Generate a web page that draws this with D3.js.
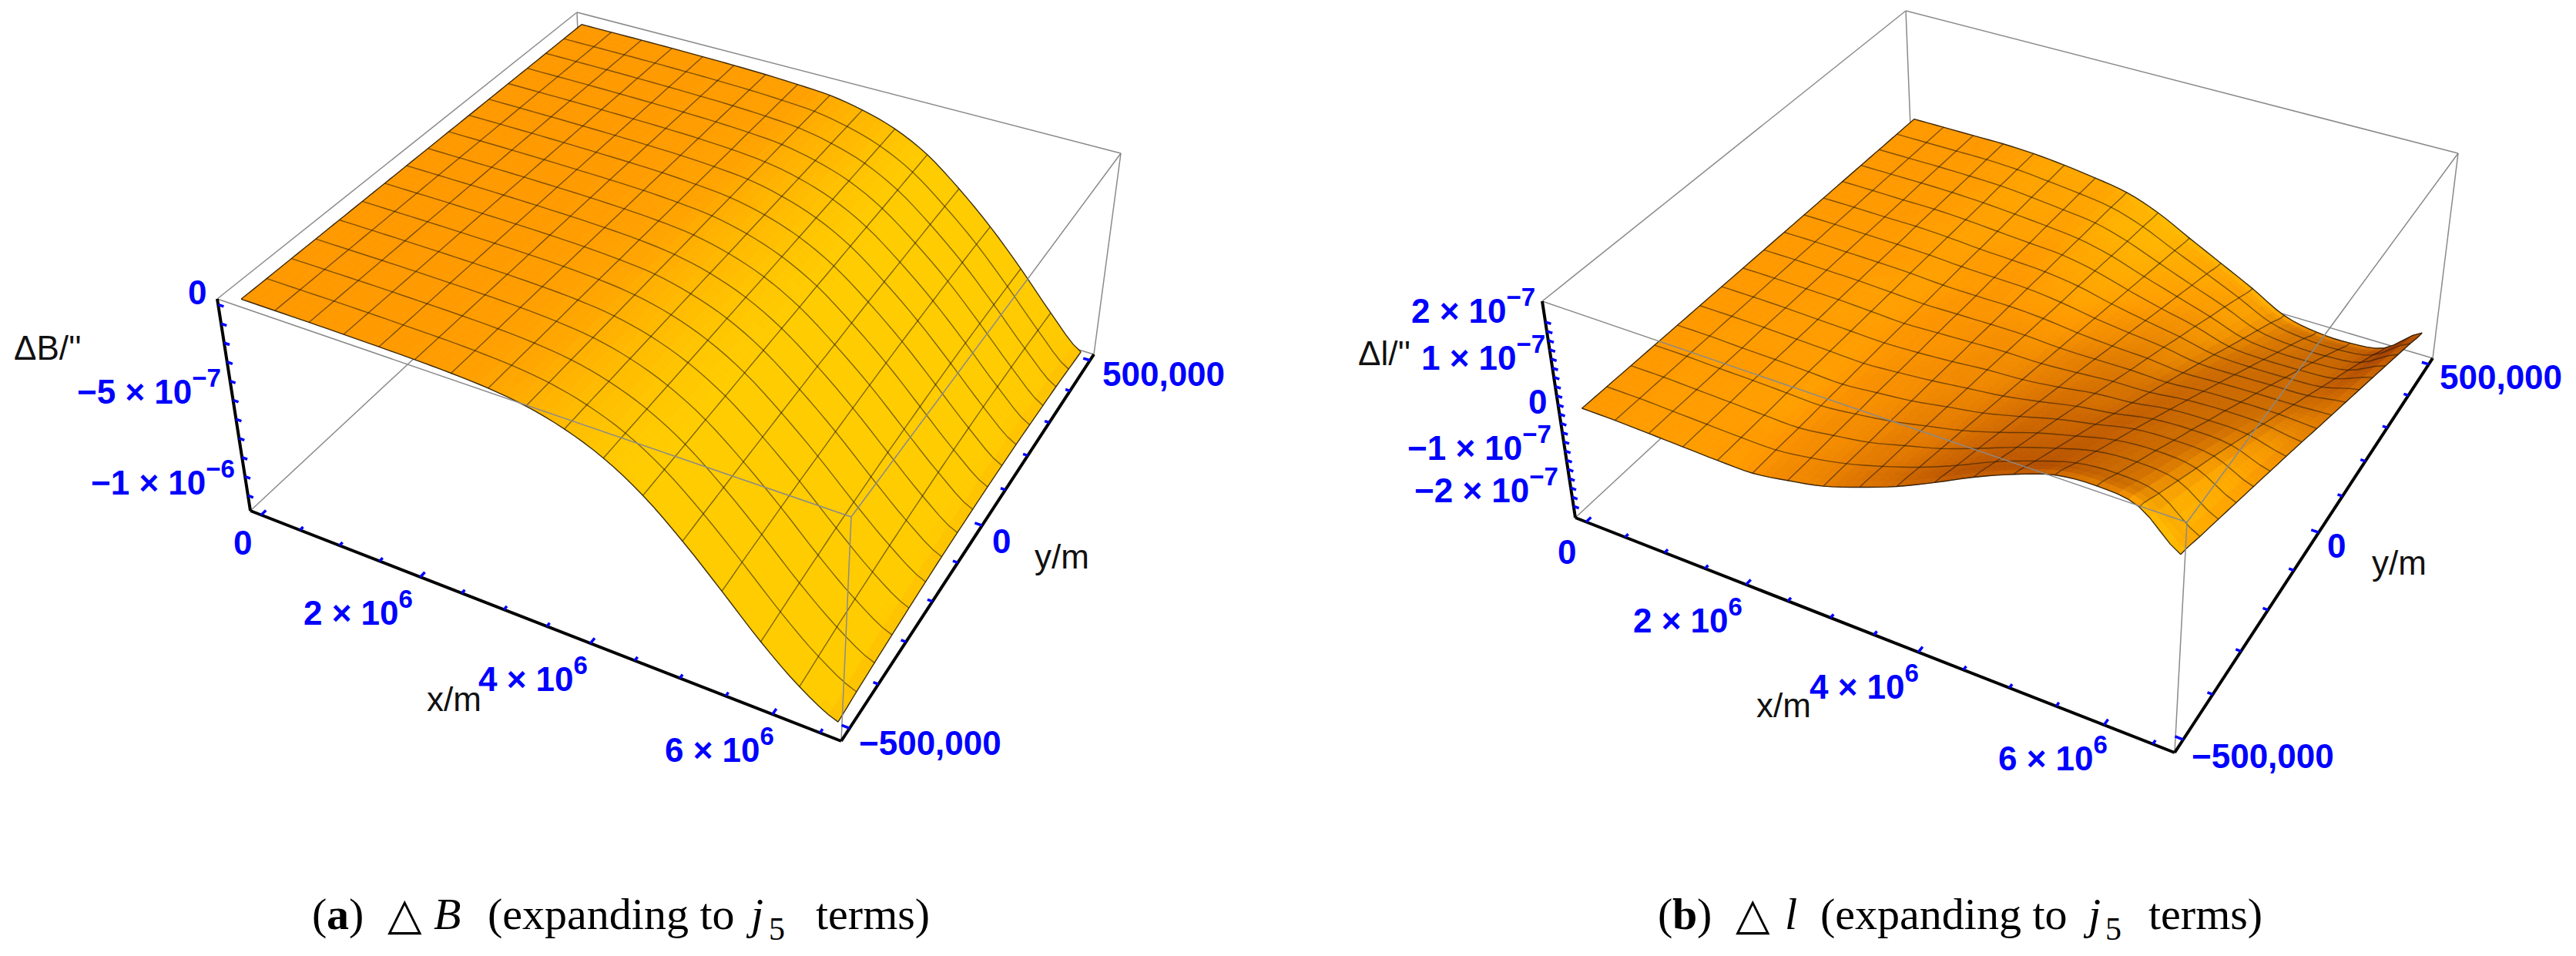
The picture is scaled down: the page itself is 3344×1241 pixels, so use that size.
<!DOCTYPE html>
<html>
<head>
<meta charset="utf-8">
<script src="https://cdnjs.cloudflare.com/ajax/libs/d3/7.8.5/d3.min.js"></script>
<style>
body { margin: 0; background: #fff; }
text { font-family: "Liberation Sans", Arial, sans-serif; }
.tick { fill: #0000ff; font-weight: bold; font-size: 44px; }
.axlabel { fill: #111; font-size: 44px; }
.cap { fill: #000; font-family: "Liberation Serif", serif; font-size: 58px; }
</style>
</head>
<body>
<svg width="3344" height="1241"></svg>
<script>
// mesh positions (metres) shared by both surfaces
var xMesh = [0, 412500, 825000, 1237500, 1650000, 2062500, 2475000, 2887500, 3300000, 3712500, 4125000, 4537500, 4950000, 5362500, 5775000, 6187500, 6600000];
var yMesh = [-500000, -437500, -375000, -312500, -250000, -187500, -125000, -62500, 0, 62500, 125000, 187500, 250000, 312500, 375000, 437500, 500000];

// units 1e-7 arcsec; one row per xMesh value, one column per yMesh value
var deltaB = [
  [0,0,0,0,0,0,0,0,0,0,0,0,0,0,0,0,0],
  [0,0,0,0,0,0,0,0,0,0,0,0,0,0,0,0,0],
  [0,0,0,0,0,0,0,0,0,0,0,0,0,0,0,0,0],
  [-.01,-.01,-.01,-.01,-.01,-.01,-.01,-.01,-.01,-.01,-.01,-.01,-.01,-.01,-.01,-.01,-.01],
  [-.03,-.03,-.03,-.03,-.03,-.03,-.03,-.03,-.03,-.03,-.03,-.03,-.03,-.03,-.03,-.03,-.03],
  [-.06,-.06,-.06,-.06,-.06,-.06,-.06,-.06,-.06,-.06,-.06,-.06,-.06,-.06,-.06,-.06,-.06],
  [-.12,-.12,-.12,-.12,-.12,-.12,-.12,-.12,-.12,-.11,-.11,-.11,-.11,-.11,-.11,-.11,-.11],
  [-.24,-.24,-.24,-.24,-.23,-.23,-.23,-.22,-.22,-.22,-.22,-.21,-.21,-.2,-.2,-.2,-.2],
  [-.5,-.49,-.48,-.47,-.46,-.45,-.43,-.43,-.42,-.4,-.4,-.38,-.38,-.36,-.35,-.34,-.33],
  [-1,-.98,-.96,-.94,-.92,-.9,-.88,-.86,-.85,-.82,-.8,-.78,-.76,-.74,-.72,-.7,-.68],
  [-1.8,-1.76,-1.73,-1.7,-1.67,-1.63,-1.59,-1.56,-1.53,-1.49,-1.46,-1.42,-1.39,-1.35,-1.32,-1.29,-1.25],
  [-3,-2.94,-2.88,-2.82,-2.77,-2.71,-2.66,-2.61,-2.56,-2.5,-2.46,-2.41,-2.37,-2.33,-2.29,-2.24,-2.2],
  [-4.6,-4.5,-4.41,-4.32,-4.24,-4.16,-4.09,-4.01,-3.96,-3.89,-3.83,-3.78,-3.74,-3.7,-3.66,-3.63,-3.6],
  [-6.4,-6.25,-6.12,-5.99,-5.87,-5.77,-5.67,-5.58,-5.5,-5.43,-5.37,-5.32,-5.28,-5.24,-5.22,-5.2,-5.2],
  [-8.2,-8.03,-7.88,-7.74,-7.6,-7.49,-7.38,-7.28,-7.21,-7.14,-7.08,-7.03,-7,-6.99,-6.98,-6.99,-7],
  [-9.7,-9.55,-9.4,-9.28,-9.17,-9.06,-8.98,-8.91,-8.85,-8.81,-8.78,-8.76,-8.77,-8.78,-8.8,-8.85,-8.9],
  [-10.7,-10.58,-10.48,-10.39,-10.32,-10.25,-10.2,-10.17,-10.15,-10.14,-10.16,-10.17,-10.22,-10.27,-10.32,-10.41,-10.5]
];

var deltaL = [
  [0,0,0,0,0,0,0,0,0,0,0,0,0,0,0,0,0],
  [0,0,0,0,0,0,0,0,0,0,0,0,0,0,0,0,0],
  [-.02,-.02,-.02,-.02,-.02,-.01,-.01,-.01,-.01,-.01,-.01,-.01,-.01,0,0,0,0],
  [-.04,-.04,-.04,-.03,-.03,-.03,-.03,-.02,-.02,-.02,-.02,-.01,-.01,-.01,-.01,0,0],
  [-.06,-.06,-.06,-.05,-.05,-.05,-.05,-.05,-.05,-.04,-.04,-.04,-.04,-.04,-.03,-.03,-.03],
  [-.06,-.06,-.07,-.07,-.07,-.07,-.07,-.08,-.08,-.08,-.08,-.09,-.09,-.09,-.09,-.1,-.1],
  [.06,.04,.03,.01,0,-.02,-.04,-.05,-.07,-.09,-.1,-.12,-.14,-.15,-.17,-.18,-.2],
  [.22,.19,.15,.12,.08,.05,.01,-.02,-.06,-.09,-.12,-.16,-.19,-.23,-.26,-.29,-.33],
  [.48,.41,.35,.28,.21,.14,.08,.01,-.06,-.13,-.2,-.26,-.33,-.4,-.47,-.53,-.6],
  [.78,.67,.56,.45,.34,.23,.12,.01,-.1,-.21,-.32,-.43,-.54,-.65,-.76,-.87,-.98],
  [1.15,.99,.84,.68,.53,.37,.21,.06,-.1,-.26,-.41,-.57,-.73,-.88,-1.04,-1.19,-1.35],
  [1.55,1.35,1.14,.94,.74,.53,.33,.12,-.09,-.29,-.49,-.7,-.9,-1.11,-1.31,-1.52,-1.72],
  [1.9,1.65,1.4,1.15,.9,.64,.39,.14,-.11,-.36,-.61,-.86,-1.12,-1.37,-1.62,-1.87,-2.12],
  [2.18,1.9,1.62,1.34,1.07,.79,.51,.23,-.05,-.33,-.61,-.89,-1.17,-1.45,-1.72,-2,-2.28],
  [2.25,1.97,1.68,1.4,1.11,.83,.54,.26,-.03,-.31,-.59,-.88,-1.16,-1.44,-1.73,-2.02,-2.3],
  [2.12,1.85,1.58,1.31,1.05,.78,.51,.24,-.03,-.3,-.57,-.84,-1.11,-1.37,-1.64,-1.91,-2.18],
  [1.45,1.26,1.07,.88,.69,.5,.31,.12,-.08,-.27,-.46,-.65,-.84,-1.03,-1.22,-1.41,-1.6]
];

// axis ticks
var xMinor = [0,500000,1000000,1500000,2000000,2500000,3000000,3500000,4000000,4500000,5000000,5500000,6000000,6500000];
var yMinor = [-500000,-400000,-300000,-200000,-100000,0,100000,200000,300000,400000,500000];
var zMinorA = [0,-1,-2,-3,-4,-5,-6,-7,-8,-9,-10];
var zMinorB = [2,1.8,1.6,1.4,1.2,1,.8,.6,.4,.2,0,-.2,-.4,-.6,-.8,-1,-1.2,-1.4,-1.6,-1.8,-2];
var xTickText = [['0',''],['2 × 10','6'],['4 × 10','6'],['6 × 10','6']];
var yTickText = [['−500,000',''],['0',''],['500,000','']];
var zTickTextA = [['0',''],['−5 × 10','−7'],['−1 × 10','−6']];
var zTickTextB = [['2 × 10','−7'],['1 × 10','−7'],['0',''],['−1 × 10','−7'],['−2 × 10','−7']];

var svg = d3.select('svg');

var panels = [
  {
    values: deltaB, zDomain: [-10.8, .3], zMinor: zMinorA, zTickText: zTickTextA, zLabel: "ΔB/''",
    // box corners on the page: first index x end, second y end
    bottom: [[325,663],[1092,962],[1420,460],[759,259]],
    top: [[282,388],[1105,671],[1455,199],[749,16]],
    zPos: [[244,395],[100,524],[118,642]],
    xPos: [[303,720],[394,811],[621,897],[863,989]],
    yPos: [[1115,980],[1288,718],[1431,501]],
    xLabel: [554,923], yLabel: [1343,738], zLabelPos: [18,467]
  },
  {
    values: deltaL, zDomain: [-2.25, 2.45], zMinor: zMinorB, zTickText: zTickTextB, zLabel: "Δl/''",
    bottom: [[2045,672],[2823,977],[3158,465],[2484,265]],
    top: [[2002,391],[2839,678],[3191,199],[2474,14]],
    zPos: [[1832,419],[1845,480],[1984,537],[1827,597],[1836,652]],
    xPos: [[2022,732],[2120,821],[2349,907],[2594,1000]],
    yPos: [[2845,997],[3021,724],[3167,505]],
    xLabel: [2280,931], yLabel: [3079,746], zLabelPos: [1763,474]
  }
];

// unit square to page quad, so the box keeps its perspective
function quadMap(q) {
  var dx1 = q[1][0]-q[2][0], dx2 = q[3][0]-q[2][0], sx = q[0][0]-q[1][0]+q[2][0]-q[3][0];
  var dy1 = q[1][1]-q[2][1], dy2 = q[3][1]-q[2][1], sy = q[0][1]-q[1][1]+q[2][1]-q[3][1];
  var den = dx1*dy2-dx2*dy1;
  var g = (sx*dy2-dx2*sy)/den, h = (dx1*sy-sx*dy1)/den;
  var a = q[1][0]-q[0][0]+g*q[1][0], b = q[3][0]-q[0][0]+h*q[3][0];
  var d = q[1][1]-q[0][1]+g*q[1][1], e = q[3][1]-q[0][1]+h*q[3][1];
  return function(s, v) {
    var w = g*s+h*v+1;
    return [(a*s+b*v+q[0][0])/w, (d*s+e*v+q[0][1])/w];
  };
}

function catmull(p0, p1, p2, p3, t) {
  return .5*(2*p1+(p2-p0)*t+(2*p0-5*p1+4*p2-p3)*t*t+(3*p1-p0-3*p2+p3)*t*t*t);
}

function drawTickText(g, pos, parts) {
  var t = g.append('text').attr('class', 'tick').attr('x', pos[0]).attr('y', pos[1]).text(parts[0]);
  if (parts[1]) {
    t.append('tspan').attr('dy', -22).attr('font-size', 33).text(parts[1]);
  }
}

panels.forEach(function(p) {
  var g = svg.append('g');
  var xScale = d3.scaleLinear().domain([-140000, 6720000]).range([0, 1]);
  var yScale = d3.scaleLinear().domain([-528000, 520000]).range([0, 1]);
  var zScale = d3.scaleLinear().domain(p.zDomain).range([0, 1]);
  var low = quadMap(p.bottom), high = quadMap(p.top);
  var n = xMesh.length;

  function project(s, v, t) {
    var a = low(s, v), b = high(s, v);
    return [a[0]+(b[0]-a[0])*t, a[1]+(b[1]-a[1])*t];
  }
  function sAt(fi) {
    var i = Math.min(Math.floor(fi), n-2);
    return xScale(xMesh[i]+(xMesh[i+1]-xMesh[i])*(fi-i));
  }
  function vAt(fj) {
    var j = Math.min(Math.floor(fj), n-2);
    return yScale(yMesh[j]+(yMesh[j+1]-yMesh[j])*(fj-j));
  }
  function clampI(i) { return Math.max(0, Math.min(n-1, i)); }
  // smooth height between the mesh values
  function tAt(fi, fj) {
    var i = Math.min(Math.floor(fi), n-2), j = Math.min(Math.floor(fj), n-2);
    var rows = [i-1, i, i+1, i+2].map(function(r) {
      var row = p.values[clampI(r)];
      return catmull(row[clampI(j-1)], row[j], row[j+1], row[clampI(j+2)], fj-j);
    });
    return zScale(catmull(rows[0], rows[1], rows[2], rows[3], fi-i));
  }
  function surfacePoint(fi, fj) {
    return project(sAt(fi), vAt(fj), tAt(fi, fj));
  }

  // box edges: those behind the surface first
  var line = d3.line();
  var behind = [[p.top[0],p.top[3]],[p.top[3],p.top[2]],[p.top[3],p.bottom[3]],[p.top[2],p.bottom[2]],[p.bottom[0],p.bottom[3]],[p.bottom[3],p.bottom[2]]];
  var inFront = [[p.top[0],p.top[1]],[p.top[1],p.bottom[1]],[p.top[1],p.top[2]]];
  function drawEdges(list) {
    g.append('g').selectAll('path').data(list).join('path')
      .attr('d', line).attr('fill', 'none').attr('stroke', '#8a8a8a').attr('stroke-width', 1.5);
  }
  drawEdges(behind);

  // surface, back to front, lit like the coloured lights of the original
  var sub = 4, quads = [];
  for (var a = 0; a < (n-1)*sub; a++) {
    for (var b = (n-1)*sub-1; b >= 0; b--) {
      var i0 = a/sub, i1 = (a+1)/sub, j0 = b/sub, j1 = (b+1)/sub;
      var dts = (tAt(i1,j0)+tAt(i1,j1)-tAt(i0,j0)-tAt(i0,j1))/2/(sAt(i1)-sAt(i0));
      var dtv = (tAt(i0,j1)+tAt(i1,j1)-tAt(i0,j0)-tAt(i1,j0))/2/(vAt(j1)-vAt(j0));
      var nx = -dts*.4, ny = -dtv*.4, len = Math.sqrt(nx*nx+ny*ny+1);
      var red = .312+.8*Math.max(0, ((nx>0?.55:.2)*nx-.5*ny+.86)/len);
      var green = .188+.8*Math.max(0, ((nx>0?.567:.3)*nx-.5*ny+.515)/len);
      quads.push({
        pts: [surfacePoint(i0,j0), surfacePoint(i1,j0), surfacePoint(i1,j1), surfacePoint(i0,j1)],
        color: d3.rgb(Math.min(1,red)*255, Math.min(.8,green)*255, 0).formatHex()
      });
    }
  }
  g.append('g').selectAll('path').data(quads).join('path')
    .attr('d', function(d) { return line(d.pts)+'Z'; })
    .attr('fill', function(d) { return d.color; })
    .attr('stroke', function(d) { return d.color; })
    .attr('stroke-width', .8);

  // mesh lines plus the dark boundary
  var meshLines = [];
  d3.range(n).forEach(function(k) {
    meshLines.push({ edge: k==0||k==n-1, pts: d3.range((n-1)*sub+1).map(function(m) { return surfacePoint(k, m/sub); }) });
    meshLines.push({ edge: k==0||k==n-1, pts: d3.range((n-1)*sub+1).map(function(m) { return surfacePoint(m/sub, k); }) });
  });
  g.append('g').selectAll('path').data(meshLines).join('path')
    .attr('d', function(d) { return line(d.pts); })
    .attr('fill', 'none')
    .attr('stroke', '#1c1408')
    .attr('stroke-opacity', function(d) { return d.edge ? .85 : .55; })
    .attr('stroke-width', 1.4);

  drawEdges(inFront);

  // thick axes
  g.append('g').selectAll('path')
    .data([[p.top[0],p.bottom[0]],[p.bottom[0],p.bottom[1]],[p.bottom[1],p.bottom[2]]])
    .join('path').attr('d', line).attr('fill', 'none').attr('stroke', '#000')
    .attr('stroke-width', 4).attr('stroke-linejoin', 'miter');

  // blue ticks, very short in the original
  var tickSegs = [];
  xMinor.forEach(function(x) {
    var len = x % 2000000 == 0 ? .012 : .008;
    tickSegs.push([project(xScale(x), 0, 0), project(xScale(x), len, 0)]);
  });
  yMinor.forEach(function(y) {
    var len = y % 500000 == 0 ? .012 : .008;
    tickSegs.push([project(1, yScale(y), 0), project(1-len, yScale(y), 0)]);
  });
  p.zMinor.forEach(function(z) {
    tickSegs.push([project(0, 0, zScale(z)), project(.01, 0, zScale(z))]);
  });
  g.append('g').selectAll('path').data(tickSegs).join('path')
    .attr('d', line).attr('fill', 'none').attr('stroke', '#0000ff').attr('stroke-width', 3.5);

  // tick labels and axis titles
  p.zTickText.forEach(function(d, i) { drawTickText(g, p.zPos[i], d); });
  xTickText.forEach(function(d, i) { drawTickText(g, p.xPos[i], d); });
  yTickText.forEach(function(d, i) { drawTickText(g, p.yPos[i], d); });
  g.append('text').attr('class', 'axlabel').attr('x', p.xLabel[0]).attr('y', p.xLabel[1]).text('x/m');
  g.append('text').attr('class', 'axlabel').attr('x', p.yLabel[0]).attr('y', p.yLabel[1]).text('y/m');
  g.append('text').attr('class', 'axlabel').attr('x', p.zLabelPos[0]).attr('y', p.zLabelPos[1]).text(p.zLabel);
});

// captions, one piece at a time because of the wide gaps
var captions = [
  [['(', 405, ''], ['a', 424, 'bold'], [')', 453, ''], ['△', 503, ''], ['B', 563, 'italic'], ['(expanding to', 633, ''], ['j', 975, 'italic'], ['terms)', 1059, '']],
  [['(', 2152, ''], ['b', 2171, 'bold'], [')', 2203, ''], ['△', 2253, ''], ['l', 2317, 'italic'], ['(expanding to', 2363, ''], ['j', 2711, 'italic'], ['terms)', 2789, '']]
];
var subFive = [998, 2733];
captions.forEach(function(c, k) {
  var g = svg.append('g');
  g.selectAll('text').data(c).join('text')
    .attr('class', 'cap')
    .attr('x', function(d) { return d[1]; })
    .attr('y', 1206)
    .attr('font-weight', function(d) { return d[2]=='bold' ? 'bold' : null; })
    .attr('font-style', function(d) { return d[2]=='italic' ? 'italic' : null; })
    .text(function(d) { return d[0]; });
  g.append('text').attr('class', 'cap').attr('x', subFive[k]).attr('y', 1220).style('font-size', '42px').text('5');
});
</script>
</body>
</html>
